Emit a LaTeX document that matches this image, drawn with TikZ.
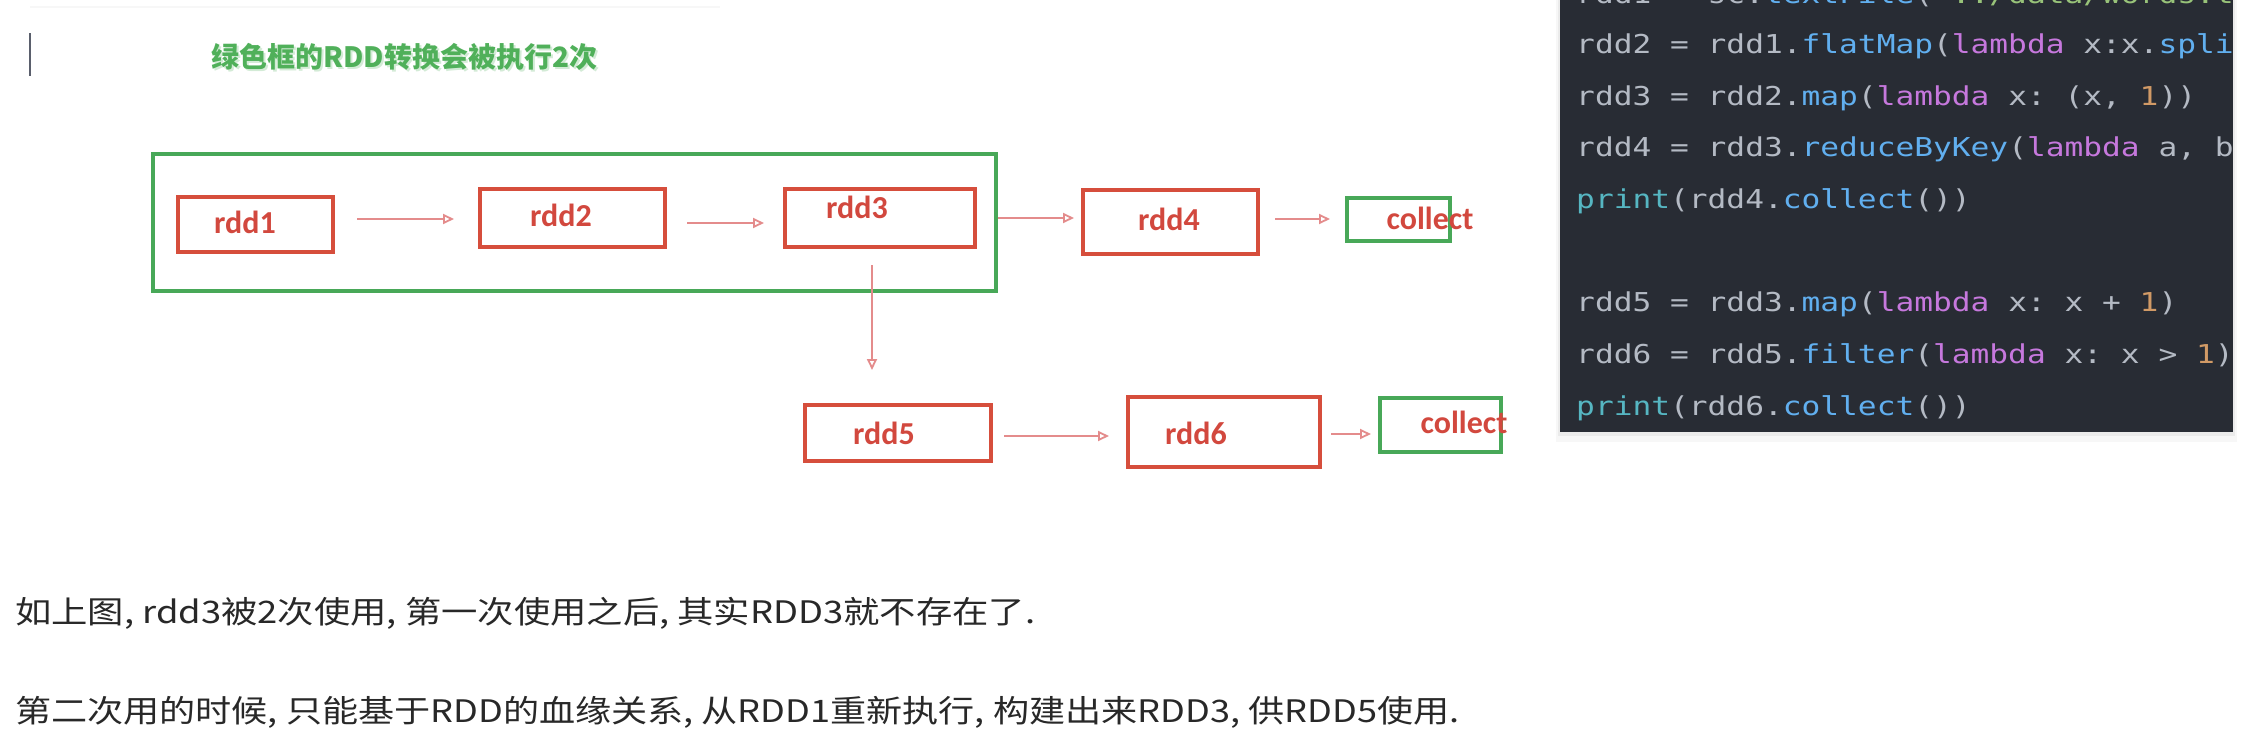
\documentclass[tikz,border=0pt]{standalone}
\usepackage{fontspec}
\usepackage{graphicx}
\setmainfont{Noto Sans CJK SC}
\newfontfamily\labfont{Carlito}
\newfontfamily\codefont{DejaVu Sans Mono}
\usetikzlibrary{arrows.meta}
\definecolor{rbox}{RGB}{214,78,60}
\definecolor{rtext}{RGB}{210,72,62}
\definecolor{gbox}{RGB}{72,168,88}
\definecolor{gtitle}{RGB}{80,176,90}
\definecolor{arr}{RGB}{228,140,140}
\definecolor{barcol}{RGB}{90,95,108}
\definecolor{panelbg}{HTML}{282C34}
\definecolor{cfg}{HTML}{B4BAC4}
\definecolor{cblue}{HTML}{61AFEF}
\definecolor{cpurp}{HTML}{C678DD}
\definecolor{ccyan}{HTML}{56B6C2}
\definecolor{corange}{HTML}{D19A66}
\definecolor{cgreen}{HTML}{98C379}
\definecolor{btext}{RGB}{40,40,40}
\newcommand\codeline[1]{\scalebox{1.20}[1]{\codefont\fontsize{26}{26}\selectfont\frenchspacing\color{cfg}#1}}
\newcommand\fn[1]{\textcolor{cblue}{#1}}
\newcommand\kw[1]{\textcolor{cpurp}{#1}}
\newcommand\bi[1]{\textcolor{ccyan}{#1}}
\newcommand\nm[1]{\textcolor{corange}{#1}}
\newcommand\st[1]{\textcolor{cgreen}{#1}}
\begin{document}
\begin{tikzpicture}[x=1pt,y=-1pt,
  redbox/.style={draw=rbox, line width=3.5pt, inner sep=0},
  greenbox/.style={draw=gbox, line width=3.5pt, inner sep=0},
  lab/.style={text=rtext, font=\labfont\bfseries\fontsize{32}{32}\selectfont, inner sep=0},
  flow/.style={draw=arr, line width=1.8pt, -{Triangle[open,length=11pt,width=10pt]}},
  codetext/.style={anchor=base west, inner sep=0},
  bodytext/.style={anchor=west, inner sep=0, text=btext}]
\useasboundingbox (0,0) rectangle (2254,744);
\fill[white] (0,0) rectangle (2254,744);
% faint top line and left bar
\draw[black!3, line width=2pt] (30,7) -- (720,7);
\draw[barcol, line width=2.5pt] (30,33) -- (30,76);
% title
\node[inner sep=0, text=gtitle!25] at (406.5,59) {\resizebox{385pt}{\height}{\bfseries\fontsize{28}{28}\selectfont 绿色框的RDD转换会被执行2次}};
\node[inner sep=0, text=gtitle] (title) at (404.5,57) {\resizebox{385pt}{\height}{\bfseries\fontsize{28}{28}\selectfont 绿色框的RDD转换会被执行2次}};
% green frame
\node[greenbox, minimum width=843pt, minimum height=137pt] (frame) at (574.5,222.5) {};
% boxes
\node[redbox, minimum width=155pt, minimum height=55pt] (b1) at (255.5,224.5) {};
\node[redbox, minimum width=185pt, minimum height=58pt] (b2) at (572.5,218) {};
\node[redbox, minimum width=190pt, minimum height=58pt] (b3) at (880,218) {};
\node[redbox, minimum width=175pt, minimum height=64pt] (b4) at (1170.5,222) {};
\node[greenbox, minimum width=103pt, minimum height=43pt] (c1) at (1398.5,219.5) {};
\node[redbox, minimum width=186pt, minimum height=56pt] (b5) at (898,433) {};
\node[redbox, minimum width=192pt, minimum height=70pt] (b6) at (1224,432) {};
\node[greenbox, minimum width=121pt, minimum height=54pt] (c2) at (1440.5,425) {};
% labels
\node[lab] (l1) at (245,222) {rdd1};
\node[lab] (l2) at (561,215) {rdd2};
\node[lab] (l3) at (857,207) {rdd3};
\node[lab] (l4) at (1169,219) {rdd4};
\node[lab] (lc1) at (1430,218) {collect};
\node[lab] (l5) at (884,433) {rdd5};
\node[lab] (l6) at (1196,433) {rdd6};
\node[lab] (lc2) at (1464,422) {collect};
% arrow ends
\coordinate (a1s) at (357,219); \coordinate (a1e) at (454,219);
\coordinate (a2s) at (687,223); \coordinate (a2e) at (764,223);
\coordinate (a3s) at (998,218); \coordinate (a3e) at (1074,218);
\coordinate (a4s) at (1275,219); \coordinate (a4e) at (1330,219);
\coordinate (a5s) at (1004,436); \coordinate (a5e) at (1109,436);
\coordinate (a6s) at (1331,434); \coordinate (a6e) at (1371,434);
\coordinate (vs) at (872,265); \coordinate (ve) at (872,370);
\draw[flow] (a1s) -- (a1e);
\draw[flow] (a2s) -- (a2e);
\draw[flow] (a3s) -- (a3e);
\draw[flow] (a4s) -- (a4e);
\draw[flow] (a5s) -- (a5e);
\draw[flow] (a6s) -- (a6e);
\draw[flow] (vs) -- (ve);
% code panel
\fill[black!3] (1556,-2) rectangle (2237,442);
\fill[black!8] (1558,-2) rectangle (2235,436);
\begin{scope}
\clip (1560,-2) rectangle (2233,432);
\fill[panelbg] (1560,-2) rectangle (2233,432);
\node[codetext] (k1) at (1576,3) {\codeline{rdd1 = sc.\fn{textFile}(\st{"../data/words.txt"})}};
\node[codetext] (k2) at (1576,53) {\codeline{rdd2 = rdd1.\fn{flatMap}(\kw{lambda} x:x.\fn{split}(\st{" "}))}};
\node[codetext] (k3) at (1576,105) {\codeline{rdd3 = rdd2.\fn{map}(\kw{lambda} x: (x, \nm{1}))}};
\node[codetext] (k4) at (1576,156) {\codeline{rdd4 = rdd3.\fn{reduceByKey}(\kw{lambda} a, b: a + b)}};
\node[codetext] (k5) at (1576,208) {\codeline{\bi{print}(rdd4.\fn{collect}())}};
\node[codetext] (k7) at (1576,311) {\codeline{rdd5 = rdd3.\fn{map}(\kw{lambda} x: x + \nm{1})}};
\node[codetext] (k8) at (1576,363) {\codeline{rdd6 = rdd5.\fn{filter}(\kw{lambda} x: x > \nm{1})}};
\node[codetext] (k9) at (1576,415) {\codeline{\bi{print}(rdd6.\fn{collect}())}};
\end{scope}
% bottom text
\node[bodytext] (t1) at (15,613) {\resizebox{1020pt}{\height}{\fontsize{31}{31}\selectfont 如上图, rdd3被2次使用, 第一次使用之后, 其实RDD3就不存在了.}};
\node[bodytext] (t2) at (15,712) {\resizebox{1444pt}{\height}{\fontsize{31}{31}\selectfont 第二次用的时候, 只能基于RDD的血缘关系, 从RDD1重新执行, 构建出来RDD3, 供RDD5使用.}};
\end{tikzpicture}
\end{document}
